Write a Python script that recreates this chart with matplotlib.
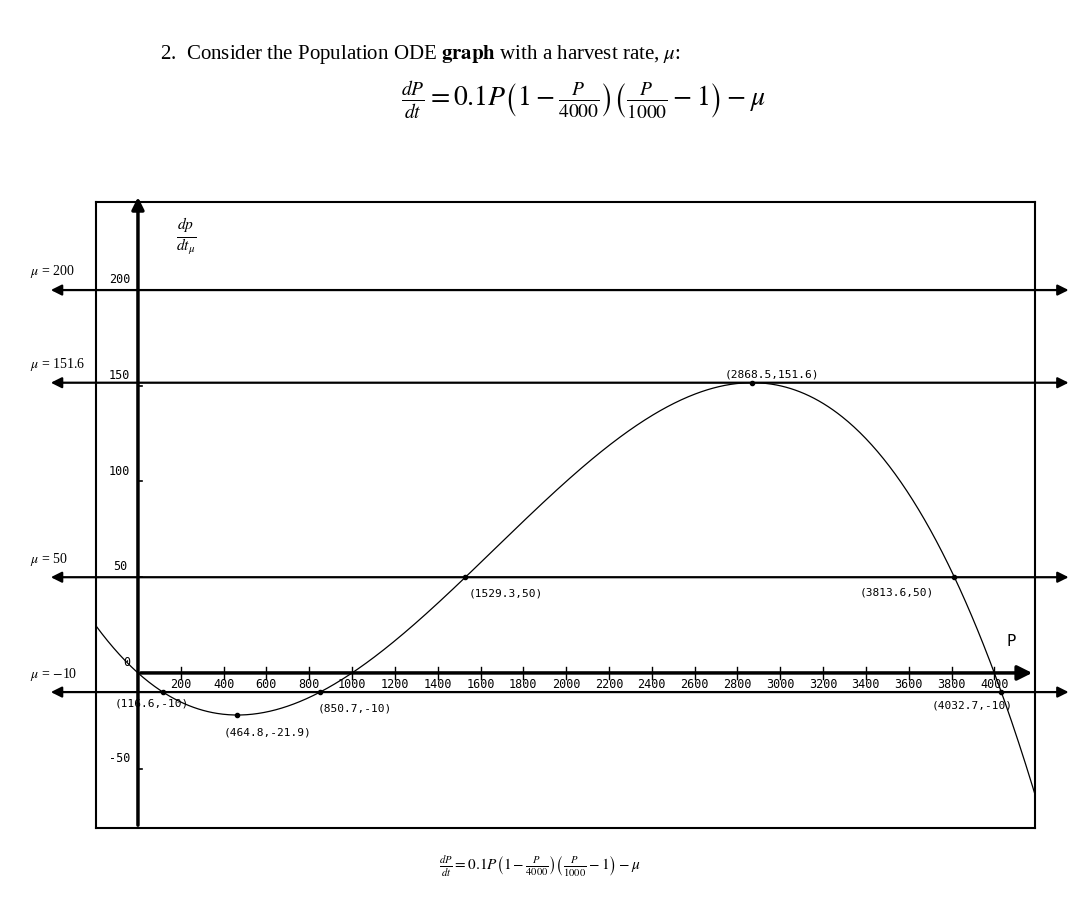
import numpy as np
import matplotlib.pyplot as plt

# model parameters shown in the picture
rate = 0.1
capacity = 4000
threshold = 1000

# harvest levels (horizontal lines) and their labels
mu_levels = [200, 151.6, 50, -10]
mu_labels = [r'$\mu$ = 200', r'$\mu$ = 151.6', r'$\mu$ = 50', r'$\mu$ = $-$10']

# marked points
pts_p = [116.6, 464.8, 850.7, 1529.3, 2868.5, 3813.6, 4032.7]
pts_v = [-10, -21.9, -10, 50, 151.6, 50, -10]
pts_txt = ['(116.6,-10)', '(464.8,-21.9)', '(850.7,-10)', '(1529.3,50)',
           '(2868.5,151.6)', '(3813.6,50)', '(4032.7,-10)']
pts_off = [(-35, -8), (-10, -13), (-2, -12), (2, -12), (-20, 6), (-68, -11), (-50, -10)]

xticks = list(range(200, 4001, 200))
yticks = [200, 150, 100, 50, -50]

plt.rcParams['font.family'] = ['DejaVu Sans']
plt.rcParams['mathtext.fontset'] = 'stix'
fig = plt.figure(figsize=(10.8, 9.23), dpi=100)
ax = fig.add_axes([96/1080, 95/923, 939/1080, 626/923])
ax.set_xlim(-196, 4190)
ax.set_ylim(-81, 246)
ax.set_xticks([]); ax.set_yticks([])
for s in ax.spines.values():
    s.set_linewidth(1.5)

P = np.linspace(-196, 4190, 800)
f = rate * P * (1 - P / capacity) * (P / threshold - 1)
ax.plot(P, f, color='black', lw=0.9)

# axes arrows
ax.annotate('', xy=(0, 250), xytext=(0, -81),
            arrowprops=dict(arrowstyle='-|>', color='black', lw=2.5, mutation_scale=18),
            annotation_clip=False)
ax.annotate('', xy=(4190, 0), xytext=(0, 0),
            arrowprops=dict(arrowstyle='-|>', color='black', lw=2.5, mutation_scale=22),
            annotation_clip=False)

# harvest lines
for m, lab in zip(mu_levels, mu_labels):
    ax.annotate('', xy=(-420, m), xytext=(4360, m),
                arrowprops=dict(arrowstyle='<|-|>', color='black', lw=1.6, mutation_scale=16),
                annotation_clip=False)
    ax.text(-505, m + 5, lab, fontsize=10, family='Liberation Serif', ha='left', va='bottom',
            clip_on=False)

for t in xticks:
    ax.plot([t, t], [-3, 3], color='black', lw=1)
    ax.text(t, -2.5, str(t), fontsize=8.5, family='DejaVu Sans Mono', ha='center', va='top')
for t in yticks:
    ax.plot([0, 20], [t, t], color='black', lw=1.2)
    ax.text(-85, t + 2, str(t), fontsize=8.5, family='DejaVu Sans Mono', ha='center', va='bottom')
ax.text(-50, 2, '0', fontsize=8.5, family='DejaVu Sans Mono', ha='center', va='bottom')

for p, v, t, o in zip(pts_p, pts_v, pts_txt, pts_off):
    ax.plot(p, v, 'o', color='black', ms=3)
    ax.annotate(t, (p, v), xytext=o, textcoords='offset points', fontsize=8,
                family='DejaVu Sans Mono', va='center')

ax.text(180, 228, r'$\frac{dp}{dt_{\mu}}$', fontsize=16, ha='left', va='center')
ax.text(4080, 14, 'P', fontsize=11, ha='center')

fig.text(160/1080, 1 - 55/923,
         r'2.  Consider the Population ODE $\mathbf{graph}$ with a harvest rate, $\mu$:',
         fontsize=15, family='Liberation Serif', va='center')
fig.text(583/1080, 1 - 100/923,
         r'$\frac{dP}{dt} = 0.1P\left(1-\frac{P}{4000}\right)\left(\frac{P}{1000}-1\right)-\mu$',
         fontsize=20, ha='center', va='center')
fig.text(540/1080, 1 - 866/923,
         r'$\frac{dP}{dt} = 0.1P\left(1-\frac{P}{4000}\right)\left(\frac{P}{1000}-1\right)-\mu$',
         fontsize=11, ha='center', va='center')

fig.savefig('out.png', dpi=100)
